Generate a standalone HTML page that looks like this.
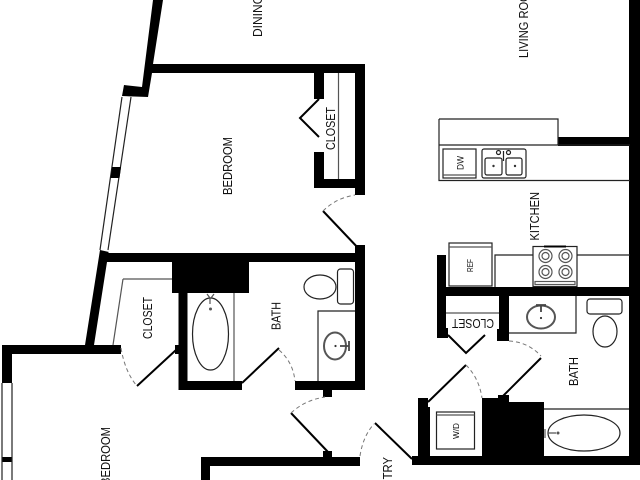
<!DOCTYPE html>
<html><head><meta charset="utf-8"><style>
html,body{margin:0;padding:0;background:#fff;width:640px;height:480px;overflow:hidden}
svg{display:block}
text{font-family:"Liberation Sans",sans-serif;font-size:12.5px;fill:#111}
.l{fill:none;stroke:#222;stroke-width:1.2}
.g{fill:none;stroke:#555;stroke-width:1.2}
.d{fill:none;stroke:#000;stroke-width:2}
.a{fill:none;stroke:#777;stroke-width:1;stroke-dasharray:4 3}
.f{fill:#fff;stroke:#222;stroke-width:1.2}
</style></head><body>
<svg width="640" height="480" viewBox="0 0 640 480" xmlns="http://www.w3.org/2000/svg">
<rect width="640" height="480" fill="#fff"/>
<!-- walls -->
<g fill="#000">
<polygon points="153,0 163,0 153,64 365,64 365,195 355,195 355,188 314,188 314,152 324,152 324,179 355,179 355,73 324,73 324,99 314,99 314,73 152,73 148,97 122,96 124,85 142,87"/>
<polygon points="100,250 109,252 108,253 365,253 365,245 355,245 355,253 365,253 365,390 332,390 332,397 323,397 323,390 295,390 295,381 355,381 355,262 249,262 249,293 187.500,293 187.500,381 242,381 242,390 178.500,390 178.500,293 172,293 172,262 107,262 94,345 121,345 121,354 12,354 12,383 2,383 2,345 85,345"/>
<rect x="175" y="345" width="4" height="9"/>
<rect x="2" y="457" width="10" height="5"/>
<polygon points="201,457 323,457 323,451 332,451 332,457 360,457 360,466 210,466 210,480 201,480"/>
<rect x="558" y="137" width="72" height="9"/>
<rect x="629" y="0" width="11" height="465"/>
<polygon points="437,255 446,255 446,287 640,287 640,296 509,296 509,341 497,341 497,329 499,329 499,296 446,296 446,328 448,328 448,338 437,338"/>
<polygon points="418,398 428,398 428,407 430,407 430,456 482,456 482,398 498,398 498,395 509,395 509,402 544,402 544,456 640,456 640,465 412,465 412,456 418,456"/>
</g>
<!-- windows -->
<path class="l" d="M122,97 L100,250 M131,97 L108,250 M2,383 V480 M12,383 V480"/>
<polygon points="112,167 121,167 119.500,178 110.500,178" fill="#000"/>
<!-- closet lines -->
<path class="g" d="M338.500,73 V179 M123,279 H172 M123,279 L113,345 M446,313 H499 M234,293 V381"/>
<path class="d" d="M319,99 L300,118 L319,137 M448,335 L466,353 L485,335"/>
<!-- doors -->
<path class="d" d="M323,211 L360,250 M137,386 L176,350 M242,383 L279,348 M291,413 L328,452 M375,423 L412,459 M466,365 L428,402 M541,358 L503,396"/>
<path class="a" d="M323,211 Q336,198 355,195 M121,348 Q125,372 137,386 M279,350 Q293,362 295,381 M291,413 Q305,400 325,397 M360,456 Q363,436 374,424 M466,365 Q479,378 482,398 M509,341 Q528,342 541,356"/>
<!-- kitchen -->
<path class="l" d="M439,119 H558 V145 M439,119 V180.500 H630 M439,145 H558 M558,145 H630"/>
<rect class="l" x="443" y="149" width="33" height="29"/>
<path class="g" d="M443,175 H476"/>
<rect class="l" x="482" y="149" width="44" height="29" rx="2"/>
<rect class="l" x="485" y="158" width="17" height="17" rx="2"/>
<rect class="l" x="506" y="158" width="16" height="17" rx="2"/>
<circle cx="493.500" cy="166" r="1.200" fill="#333"/><circle cx="515" cy="166" r="1.200" fill="#333"/>
<path class="l" d="M503.500,151 V161"/><circle class="l" cx="498.500" cy="152.500" r="2"/><circle class="l" cx="508.500" cy="152.500" r="2"/>
<path class="l" d="M495,287 V255 H630"/>
<rect class="f" x="449" y="243" width="43" height="43"/><path class="g" d="M449,247 H492"/>
<rect class="f" x="533" y="246.500" width="44" height="40"/>
<path class="d" d="M544,246.500 H566"/>
<circle class="g" cx="545.500" cy="256" r="6.500"/><circle class="g" cx="545.500" cy="256" r="3.500"/>
<circle class="g" cx="565.500" cy="256" r="6.500"/><circle class="g" cx="565.500" cy="256" r="3.500"/>
<circle class="g" cx="545.500" cy="272" r="6.500"/><circle class="g" cx="545.500" cy="272" r="3.500"/>
<circle class="g" cx="565.500" cy="272" r="6.500"/><circle class="g" cx="565.500" cy="272" r="3.500"/>
<rect class="g" x="535" y="281.500" width="40" height="3"/>
<!-- left bath -->
<ellipse class="l" cx="210.500" cy="334" rx="18" ry="36"/>
<path class="g" d="M207,294 L210,298 V304 M214,294 L211,298"/><circle cx="210.500" cy="309" r="1.500" fill="#555"/>
<rect class="l" x="337.500" y="269" width="16" height="35" rx="3"/>
<ellipse class="f" cx="320" cy="287" rx="16" ry="12"/>
<path class="l" d="M318,381 V311 H355"/>
<ellipse fill="none" stroke="#555" stroke-width="2" cx="335" cy="346" rx="11" ry="13.500"/>
<path fill="none" stroke="#444" stroke-width="1.800" d="M340,346 H349 M349,341 V351"/><circle cx="335.500" cy="346" r="1.100" fill="#333"/>
<!-- right bath -->
<path class="l" d="M509,333 H576 V296"/>
<ellipse fill="none" stroke="#555" stroke-width="2" cx="541" cy="317" rx="14" ry="11.500"/>
<path fill="none" stroke="#444" stroke-width="1.800" d="M541,305 V312 M536,305 H546"/><circle cx="541" cy="318" r="1.100" fill="#333"/>
<rect class="l" x="587" y="299" width="35" height="15" rx="3"/>
<ellipse class="f" cx="605" cy="331.500" rx="12" ry="15.500"/>
<path class="l" d="M544,409 H629"/>
<ellipse class="l" cx="584" cy="433" rx="36" ry="18"/>
<path class="g" d="M545,429 V438 M548,433 H556"/><circle cx="558" cy="433" r="1.500" fill="#555"/>
<rect class="l" x="436.500" y="412" width="38" height="37"/><path class="g" d="M436.500,415 H474.500"/>
<!-- labels -->
<text transform="translate(262,37) rotate(-90)" textLength="42" lengthAdjust="spacingAndGlyphs">DINING</text>
<text transform="translate(528,58) rotate(-90)" textLength="74" lengthAdjust="spacingAndGlyphs">LIVING ROOM</text>
<text transform="translate(232,195) rotate(-90)" textLength="58" lengthAdjust="spacingAndGlyphs">BEDROOM</text>
<text transform="translate(335,150) rotate(-90)" textLength="43" lengthAdjust="spacingAndGlyphs">CLOSET</text>
<text transform="translate(539,240.500) rotate(-90)" textLength="48.500" lengthAdjust="spacingAndGlyphs">KITCHEN</text>
<text transform="translate(152,339) rotate(-90)" textLength="42" lengthAdjust="spacingAndGlyphs">CLOSET</text>
<text transform="translate(280.500,330) rotate(-90)" textLength="28" lengthAdjust="spacingAndGlyphs">BATH</text>
<text transform="translate(578,386) rotate(-90)" textLength="29" lengthAdjust="spacingAndGlyphs">BATH</text>
<text transform="translate(494,319) rotate(180)" textLength="42" lengthAdjust="spacingAndGlyphs">CLOSET</text>
<text transform="translate(110,485) rotate(-90)" textLength="58" lengthAdjust="spacingAndGlyphs">BEDROOM</text>
<text transform="translate(392,495) rotate(-90)" textLength="38" lengthAdjust="spacingAndGlyphs">ENTRY</text>
<text transform="translate(473,272) rotate(-90)" textLength="13" lengthAdjust="spacingAndGlyphs" style="font-size:8px">REF</text>
<text transform="translate(463.500,170) rotate(-90)" textLength="14" lengthAdjust="spacingAndGlyphs" style="font-size:9px">DW</text>
<text transform="translate(459,439) rotate(-90)" textLength="16" lengthAdjust="spacingAndGlyphs" style="font-size:8px">W/D</text>
</svg>
</body></html>
